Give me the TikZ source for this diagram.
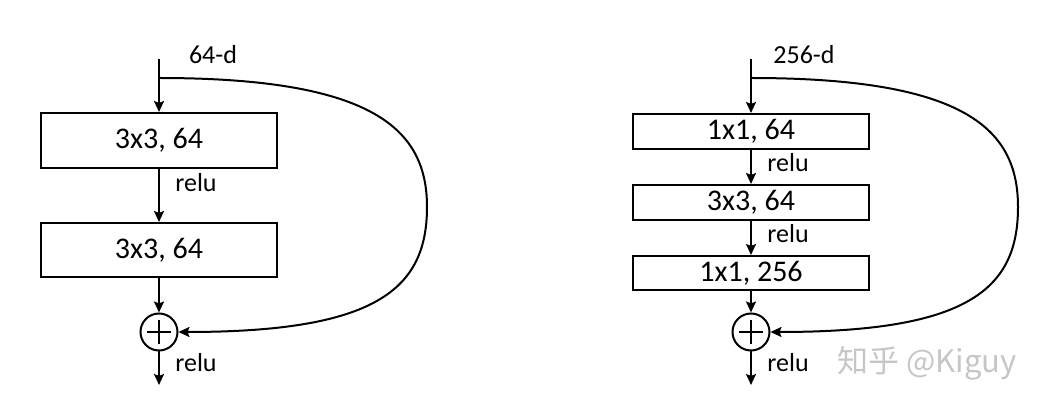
\documentclass[tikz,border=0pt]{standalone}
\usepackage{fontspec}
\setmainfont{Carlito}
\newfontfamily\cjkfont{Noto Sans CJK SC}
\usetikzlibrary{arrows.meta,positioning,calc}

\tikzset{
	convbox/.style={draw, minimum width=236pt, inner sep=0pt, font=\fontsize{30}{33}\selectfont},
	sumnode/.style={circle, draw, minimum size=37pt, inner sep=0pt},
	lbl/.style={font=\fontsize{26}{30}\selectfont}
}

\begin{document}
\begin{tikzpicture}[x=1pt,y=-1pt,line width=2pt,>={Stealth[length=11pt,width=10pt,inset=2pt]}]
			\useasboundingbox (0,0) rectangle (1045,411);
			% left block
			\coordinate (inA) at (159,59);
			\coordinate (brA) at (159,78);
			\node at (159,140.5) [convbox, minimum height=55pt] (A1) {3x3, 64};
			\node at (159,250) [convbox, minimum height=54pt] (A2) {3x3, 64};
			\node at (159,332) [sumnode] (A3) {};
			\coordinate (outA) at (159,385);
			\node at (213,55) [lbl] (dA) {64-d};
			\node at (196,183) [lbl] (rA1) {relu};
			\node at (196,363) [lbl] (rA2) {relu};
			\draw (inA) -- (brA);
			\draw[->] (brA) -- (A1);
			\draw[->] (A1) -- (A2);
			\draw[->] (A2) -- (A3);
			\draw[->] (A3) -- (outA);
			\draw ([xshift=-12pt]A3.center) -- ([xshift=12pt]A3.center);
			\draw ([yshift=-12pt]A3.center) -- ([yshift=12pt]A3.center);
			\draw[->] (brA) .. controls (375,78) and (427,130) .. (427,207) .. controls (427,290) and (375,332) .. (A3);
			% right block
			\coordinate (inB) at (751,59);
			\coordinate (brB) at (751,78);
			\node at (751,131.5) [convbox, minimum height=35pt] (B1) {1x1, 64};
			\node at (751,202.5) [convbox, minimum height=35pt] (B2) {3x3, 64};
			\node at (751,273) [convbox, minimum height=34pt] (B3) {1x1, 256};
			\node at (751,332) [sumnode] (B4) {};
			\coordinate (outB) at (751,385);
			\node at (804,55) [lbl] (dB) {256-d};
			\node at (788,163) [lbl] (rB1) {relu};
			\node at (788,234) [lbl] (rB2) {relu};
			\node at (788,363) [lbl] (rB3) {relu};
			\draw (inB) -- (brB);
			\draw[->] (brB) -- (B1);
			\draw[->] (B1) -- (B2);
			\draw[->] (B2) -- (B3);
			\draw[->] (B3) -- (B4);
			\draw[->] (B4) -- (outB);
			\draw ([xshift=-12pt]B4.center) -- ([xshift=12pt]B4.center);
			\draw ([yshift=-12pt]B4.center) -- ([yshift=12pt]B4.center);
			\draw[->] (brB) .. controls (967,78) and (1018,130) .. (1018,207) .. controls (1018,290) and (967,332) .. (B4);
			% watermark
			\node at (927,363) [font=\cjkfont\fontsize{31}{34}\selectfont, text=gray!45] (wm) {知乎 @Kiguy};
		\end{tikzpicture}
\end{document}
